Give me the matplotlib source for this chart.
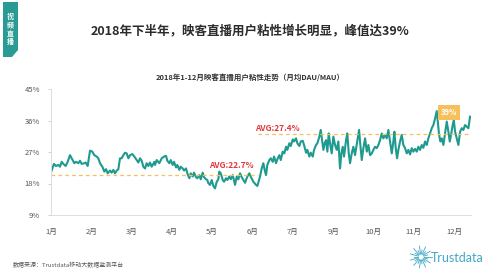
import numpy as np
import matplotlib
matplotlib.use('Agg')
import matplotlib.pyplot as plt
from matplotlib.patches import Polygon
from matplotlib.lines import Line2D

plt.rcParams['font.family'] = ['Noto Sans CJK SC', 'DejaVu Sans']

# x position in month-tick units (0 = 1月), y = DAU/MAU in %
t_month = [
    0, 0.074, 0.124, 0.182, 0.223, 0.265, 0.306, 0.364, 0.414, 0.471, 0.513, 0.579, 0.62, 0.678,
    0.72, 0.761, 0.827, 0.86, 0.91, 0.968, 1.026, 1.075, 1.133, 1.174, 1.216, 1.274, 1.323, 1.365,
    1.406, 1.464, 1.505, 1.547, 1.588, 1.63, 1.671, 1.712, 1.754, 1.795, 1.837, 1.878, 1.92, 1.961,
    2.019, 2.068, 2.126, 2.167, 2.209, 2.25, 2.291, 2.333, 2.374, 2.416, 2.457, 2.498, 2.565,
    2.581, 2.623, 2.687, 2.747, 2.804, 2.854, 2.886, 2.936, 2.970, 3.020, 3.052, 3.102, 3.134,
    3.184, 3.218, 3.268, 3.300, 3.350, 3.382, 3.432, 3.466, 3.516, 3.548, 3.598, 3.630, 3.680,
    3.715, 3.764, 3.797, 3.846, 3.878, 3.903, 3.945, 3.988, 4.027, 4.069, 4.112, 4.151, 4.176,
    4.211, 4.261, 4.293, 4.342, 4.375, 4.424, 4.459, 4.509, 4.566, 4.608, 4.648, 4.690, 4.732,
    4.772, 4.814, 4.871, 4.921, 4.955,
    5.020, 5.087, 5.120, 5.186, 5.228, 5.268, 5.310, 5.335, 5.367, 5.417, 5.452, 5.501, 5.534,
    5.583, 5.615, 5.665, 5.700, 5.749, 5.789, 5.831, 5.864, 5.913, 5.948, 5.998, 6.030, 6.079,
    6.112, 6.161, 6.196, 6.246, 6.278, 6.328, 6.360, 6.409, 6.444, 6.494, 6.526, 6.576, 6.608,
    6.658, 6.692, 6.725, 6.758, 6.791, 6.824, 6.857, 6.890, 6.923, 6.965, 7.005, 7.047, 7.089,
    7.129, 7.171, 7.204, 7.238, 7.270, 7.320, 7.352, 7.387, 7.419, 7.461, 7.501,
    7.543, 7.610, 7.643, 7.667, 7.710, 7.750, 7.792, 7.834, 7.874, 7.916, 7.958, 7.998, 8.040,
    8.082, 8.122, 8.164, 8.206, 8.246, 8.288, 8.330, 8.370, 8.412, 8.454, 8.494, 8.519, 8.553,
    8.586, 8.618, 8.660, 8.702, 8.742, 8.784, 8.826, 8.866, 8.908, 8.950, 8.990, 9.032, 9.074,
    9.114, 9.156, 9.198, 9.238, 9.280, 9.322, 9.362, 9.404, 9.446, 9.486, 9.529, 9.571, 9.595,
    9.628, 9.661, 9.695, 9.735, 9.777, 9.819, 9.859, 9.893, 9.926, 9.958, 9.993, 10.025, 10.067,
    10.107, 10.149, 10.191, 10.231, 10.273, 10.315, 10.355, 10.397,
]
stickiness = [
    21.2, 23.6, 23.0, 23.3, 22.8, 24.2, 23.6, 23.0, 24.2, 26.1, 25.2, 23.8, 24.2, 23.8,
    24.5, 23.6, 23.8, 24.0, 23.0, 27.4, 27.1, 26.1, 25.7, 25.2, 23.8, 22.8, 21.4, 22.1,
    20.9, 21.7, 21.1, 21.9, 20.9, 21.7, 22.1, 25.2, 25.2, 26.1, 26.8, 26.6, 25.2, 26.1,
    26.4, 25.7, 24.7, 24.0, 25.2, 24.5, 22.8, 22.3, 23.8, 23.0, 24.0, 22.8, 24.2,
    23.3, 24.7, 23.8, 25.2, 25.7, 25.9, 24.5, 23.8, 24.7, 23.3, 24.2, 22.6, 23.3,
    21.9, 22.8, 22.3, 21.7, 22.3, 20.9, 19.5, 20.9, 20.0, 21.1, 19.8, 19.5, 20.4,
    19.2, 21.1, 19.8, 19.2, 19.0, 18.1, 17.6, 19.0, 17.3, 16.6, 18.5, 19.2, 21.4,
    20.9, 19.0, 18.5, 19.5, 19.0, 20.0, 19.2, 20.4, 17.6, 20.0, 19.2, 20.9, 19.8,
    19.0, 18.2, 20.0, 20.9, 20.0,
    18.5, 17.6, 17.3, 20.0, 22.3, 23.8, 21.4, 20.4, 23.3, 24.7, 25.2, 24.2, 25.7,
    23.8, 24.9, 26.1, 24.7, 27.1, 26.6, 28.5, 27.6, 29.5, 28.7, 30.6, 30.0, 30.9,
    29.5, 28.7, 30.0, 30.2, 29.0, 26.8, 27.6, 25.7, 26.8, 25.7, 27.6, 29.0, 29.5,
    31.4, 33.3, 30.4, 27.6, 29.5, 30.4, 27.1, 32.3, 29.5, 26.6, 31.4, 29.0, 27.6,
    30.0, 22.3, 26.6, 28.5, 25.7, 30.4, 32.3, 26.6, 23.8, 26.6, 28.5,
    26.1, 30.9, 33.3, 30.0, 24.7, 28.1, 30.9, 27.1, 29.0, 26.1, 26.6, 27.6, 28.5,
    28.1, 29.0, 30.4, 32.3, 30.9, 31.9, 30.9, 33.3, 30.0, 26.6, 30.0, 32.8, 28.1,
    25.2, 27.6, 30.0, 31.9, 29.0, 28.1, 26.6, 27.6, 26.3, 28.1, 27.1, 27.9, 27.1,
    28.5, 27.6, 29.0, 28.2, 30.0, 29.0, 30.9, 32.3, 33.8, 34.7, 36.6, 38.7, 35.7,
    31.9, 30.0, 30.9, 29.0, 32.3, 35.7, 32.8, 30.0, 31.9, 34.2, 36.2, 32.8, 30.9,
    29.0, 32.8, 33.8, 33.3, 34.7, 34.2, 33.8, 37.1,
]

month_labels = ['1月', '2月', '3月', '4月', '5月', '6月', '7月', '9月', '10月', '11月', '12月']
y_ticks = [9, 18, 27, 36, 45]

# average reference lines as drawn in the source (level, start, end, label)
avg_labels = ['AVG:22.7%', 'AVG:27.4%']
avg_levels = [20.3, 32.1]
avg_spans = [(0, 5.14), (5.14, 10.42)]
avg_label_pos = [(4.48, 23.0), (5.62, 33.7)]

peak_label = '39%'

teal = '#1f9a8f'

fig = plt.figure(figsize=(5, 2.74), dpi=100)
ax = fig.add_axes([51 / 500, 1 - 215 / 274, 420 / 500, 126 / 274])

ax.plot(t_month, stickiness, color=teal, lw=1.5, solid_joinstyle='round')

for lvl, (x0, x1), lab, (lx, ly) in zip(avg_levels, avg_spans, avg_labels, avg_label_pos):
    ax.plot([x0, x1], [lvl, lvl], ls=(0, (3, 2.5)), color='#f5c060', lw=0.9)
    ax.text(lx, ly, lab, color='#e2383c', fontsize=6, fontweight='bold',
            ha='center', va='center')

i_peak = int(np.argmax(stickiness))
ax.annotate(peak_label, (t_month[i_peak], stickiness[i_peak]),
            xytext=(9, -1), textcoords='offset points', ha='center', va='center',
            color='white', fontsize=5.5, fontweight='bold',
            bbox=dict(boxstyle='square,pad=0.35', fc='#f6c15c', ec='none'))

ax.set_xlim(0, 10.42)
ax.set_ylim(9, 45)
ax.set_xticks(range(len(month_labels)))
ax.set_xticklabels(month_labels)
ax.set_yticks(y_ticks)
ax.set_yticklabels([f'{v}%' for v in y_ticks])
ax.tick_params(axis='x', length=0, pad=9, labelsize=5.5, labelcolor='#555555')
ax.tick_params(axis='y', length=2, width=0.6, color='#cccccc', pad=6,
               labelsize=5.5, labelcolor='#555555')
for side in ['top', 'right']:
    ax.spines[side].set_visible(False)
for side in ['left', 'bottom']:
    ax.spines[side].set_color('#dddddd')
    ax.spines[side].set_linewidth(0.7)

# titles
fig.text(0.5, 1 - 31 / 274, '2018年下半年，映客直播用户粘性增长明显，峰值达39%',
         ha='center', va='center', fontsize=9, fontweight='bold', color='#2b2b2b')
fig.text(0.5, 1 - 77 / 274, '2018年1-12月映客直播用户粘性走势（月均DAU/MAU）',
         ha='center', va='center', fontsize=5.4, fontweight='bold', color='#333333')
fig.text(13 / 500, 1 - 265 / 274, '数据来源：Trustdata移动大数据监测平台',
         ha='left', va='center', fontsize=4.3, color='#555555')

# left tab
tab = [(3, 2), (18, 2), (18, 50), (12, 57), (3, 57)]
fig.add_artist(Polygon([(x / 500, 1 - y / 274) for x, y in tab], closed=True,
                       fc='#2a9a94', ec='none', transform=fig.transFigure))
fig.text(10.5 / 500, 1 - 29 / 274, '视\n频\n直\n播', ha='center', va='center',
         fontsize=5, color='white', fontweight='bold', linespacing=1.25)

# Trustdata logo
cx, cy = 421, 257
for k, ang in enumerate(np.linspace(0, 2 * np.pi, 22, endpoint=False)):
    r0, r1 = 3, (11 if k % 2 == 0 else 7)
    xs = [cx + r0 * np.cos(ang), cx + r1 * np.cos(ang)]
    ys = [cy + r0 * np.sin(ang), cy + r1 * np.sin(ang)]
    fig.add_artist(Line2D([x / 500 for x in xs], [1 - y / 274 for y in ys],
                          color='#3fa7c6', lw=0.6, transform=fig.transFigure))
fig.text(431 / 500, 1 - 258 / 274, 'Trustdata', ha='left', va='center',
         fontsize=9, color='#3fa7c6', family=['Lato', 'DejaVu Sans'])

fig.savefig('out.png', dpi=100)
